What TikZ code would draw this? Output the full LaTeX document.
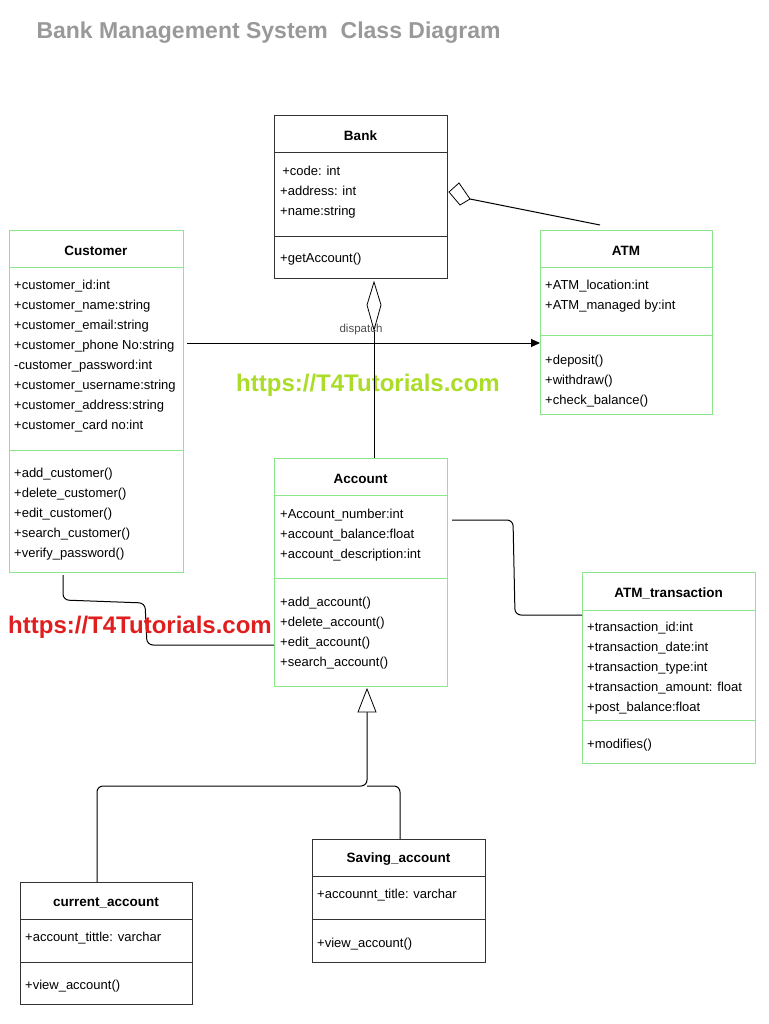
\documentclass[tikz,border=0pt]{standalone}
\usepackage{fontspec}
\setmainfont{Liberation Sans}
\usetikzlibrary{arrows.meta,calc}
\definecolor{gbox}{RGB}{140,230,140}
\begin{document}
\begin{tikzpicture}[x=1pt,y=-1pt,
  box/.style={draw,line width=1pt,inner sep=0pt,anchor=north west},
  gb/.style={box,draw=gbox},
  bb/.style={box,draw=black!80},
  ttl/.style={font=\bfseries\fontsize{13.5}{15}\selectfont},
  txt/.style={anchor=north west,align=left,inner sep=0pt,font=\fontsize{13}{20}\selectfont},
  conn/.style={line width=1pt,rounded corners=6pt},
  wm/.style={font=\bfseries\fontsize{24}{26}\selectfont}]
\useasboundingbox (0,0) rectangle (768,1024);
\newcommand{\umlclass}[9]{% name,x1,y1,x2,y2,d1,d2,title,style
  \node[#9,minimum width=#4-#2,minimum height=#5-#3] (#1) at (#2,#3) {};
  \draw[#9] (#2,#6) -- (#4,#6) (#2,#7) -- (#4,#7);
  \node[ttl] (#1t) at ({(#2+#4)/2},{(#3+#6)/2+2}) {#8};
}
\umlclass{bank}{274}{115}{447}{278}{153}{236}{Bank}{bb}
\node[txt] (bankA) at (280,166) {\,+code: int\\+address: int\\+name:string};
\node[txt] (bankM) at (280,253) {+getAccount()};

\umlclass{cust}{9}{230}{183}{572}{267}{450}{Customer}{gb}
\node[txt] (custA) at (14,280) {+customer\_id:int\\+customer\_name:string\\+customer\_email:string\\+customer\_phone No:string\\-customer\_password:int\\+customer\_username:string\\+customer\_address:string\\+customer\_card no:int};
\node[txt] (custM) at (14,468) {+add\_customer()\\+delete\_customer()\\+edit\_customer()\\+search\_customer()\\+verify\_password()};

\umlclass{atm}{540}{230}{712}{414}{267}{335}{ATM}{gb}
\node[txt] (atmA) at (545,280) {+ATM\_location:int\\+ATM\_managed by:int};
\node[txt] (atmM) at (545,355) {+deposit()\\+withdraw()\\+check\_balance()};

\umlclass{acc}{274}{458}{447}{686}{495}{578}{Account}{gb}
\node[txt] (accA) at (280,509) {+Account\_number:int\\+account\_balance:float\\+account\_description:int};
\node[txt] (accM) at (280,597) {+add\_account()\\+delete\_account()\\+edit\_account()\\+search\_account()};

\umlclass{trn}{582}{572}{755}{763}{610}{720}{ATM\_transaction}{gb}
\node[txt] (trnA) at (587,622) {+transaction\_id:int\\+transaction\_date:int\\+transaction\_type:int\\+transaction\_amount: float\\+post\_balance:float};
\node[txt] (trnM) at (587,739) {+modifies()};

\umlclass{sav}{312}{839}{485}{962}{876}{919}{Saving\_account}{bb}
\node[txt] (savA) at (317,889) {+accounnt\_title: varchar};
\node[txt] (savM) at (317,938) {+view\_account()};

\umlclass{cur}{20}{882}{192}{1004}{919}{962}{current\_account}{bb}
\node[txt] (curA) at (25,932) {+account\_tittle: varchar};
\node[txt] (curM) at (25,980) {+view\_account()};

\node[anchor=west,text=black!40,font=\bfseries\fontsize{23}{25}\selectfont] (title) at (33,33) {Bank Management System\ \ Class Diagram};
\node[wm,text={rgb,255:red,170;green,220;blue,40}] (wm1) at (368,385) {https://T4Tutorials.com};

\draw[line width=1pt] (600,225) -- (470,199);
\draw[line width=0.8pt,fill=white] (449,192) -- (459,183) -- (470,199) -- (460,205) -- cycle;
\draw[line width=1pt] (374,330) -- (acc.north -| 374,0);
\draw[line width=0.8pt,fill=white] (374,282) -- (381,305) -- (374,330) -- (367,305) -- cycle;
\draw[line width=1pt,-{Triangle[length=9pt,width=8pt]}] (187,343) -- (atm.west |- 0,343);
\node[font=\fontsize{11.5}{13}\selectfont,text=black!70] (disp) at (361,330) {dispatch};
\draw[conn] (63,575) -- (63,600) -- (145,603) -- (147,645) -- (274,645);
\draw[conn] (452,520) -- (513,520) -- (515,615) -- (582,615);
\draw[conn] (367,712) -- (367,786) -- (97,786) -- (cur.north -| 97,0);
\draw[conn] (367,786) -- (400,786) -- (sav.north -| 400,0);
\draw[line width=0.8pt,fill=white] (367,689) -- (376,712) -- (358,712) -- cycle;
\node[wm,text={rgb,255:red,225;green,30;blue,30}] (wm2) at (140,627) {https://T4Tutorials.com};
\end{tikzpicture}
\end{document}
